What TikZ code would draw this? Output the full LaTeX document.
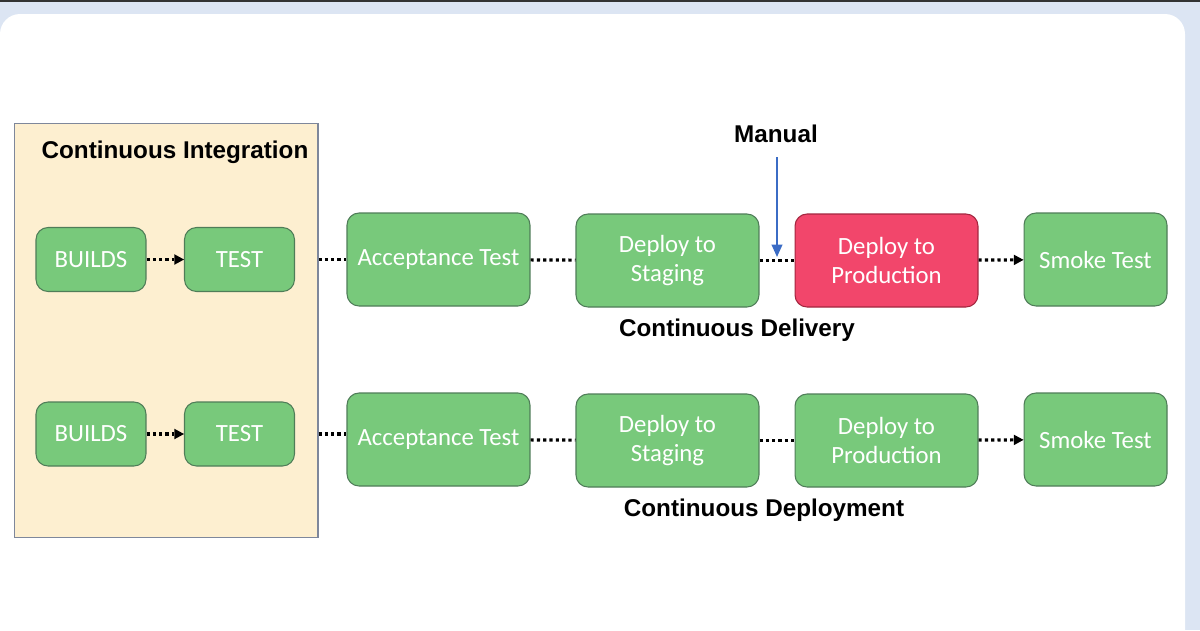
\documentclass[tikz,border=0pt]{standalone}
\usepackage{fontspec}
\setmainfont{Carlito}
\newfontfamily\headfont{Liberation Sans}
\usetikzlibrary{arrows.meta,calc}
\definecolor{stagegreen}{HTML}{78C97B}
\definecolor{stageedge}{HTML}{4F7D58}
\definecolor{prodred}{HTML}{F2466B}
\definecolor{prodedge}{HTML}{A3263F}
\definecolor{cifill}{HTML}{FDEFD0}
\definecolor{ciedge}{HTML}{7E879B}
\definecolor{pagebg}{HTML}{DCE5F3}
\definecolor{manualblue}{HTML}{3B6CC5}
\tikzset{
  stage/.style = {draw=stageedge, fill=stagegreen, rounded corners=0.24cm,
    text=white, font=\fontsize{14.1}{16.4}\selectfont, align=center,
    line width=0.6pt, inner sep=0pt},
  small stage/.style = {stage, minimum width=2.2cm, minimum height=1.28cm},
  big stage/.style = {stage, minimum width=3.66cm, minimum height=1.86cm},
  red stage/.style = {big stage, draw=prodedge, fill=prodred},
  heading/.style = {font=\headfont\bfseries\fontsize{13.8}{16}\selectfont},
  flow/.style = {line width=1.8pt, dash pattern=on 1.8pt off 1.8pt},
  flow arrow/.style = {flow, -{Triangle[length=5.5pt,width=6pt,line width=0pt]}}
}

\begin{document}
\begin{tikzpicture}[x=0.02cm,y=-0.02cm]

  % page background and panel
  \useasboundingbox (0,0) rectangle (1200,630);
  \clip (0,0) rectangle (1200,630);
  \fill[pagebg] (0,0) rectangle (1200,630);
  \fill[black!80] (0,0) rectangle (1200,1.5);
  \fill[white, rounded corners=0.4cm] (0,14) rectangle (1185,680);

  % CI box
  \node[draw=ciedge, fill=cifill, line width=0.6pt, minimum width=6.08cm,
    minimum height=8.3cm, inner sep=0pt] (ci) at (166,330.5) {};
  \node[heading] (cititle) at (175,152.5) {Continuous Integration};

  % continuous delivery row
  \node[small stage] (build1) at (91,259.5) {BUILDS};
  \node[small stage] (test1) at (239.5,259.5) {TEST};
  \node[big stage] (accept1) at (438.5,259.5) {Acceptance Test};
  \node[big stage] (stage1) at (667.5,260.5) {Deploy to\\Staging};
  \node[red stage] (prod1) at (886.5,260.5) {Deploy to\\Production};
  \node[big stage, minimum width=2.86cm] (smoke1) at (1095.5,259.5) {Smoke Test};
  \node[heading] (delivery) at (737,330.5) {Continuous Delivery};
  \node[heading] (manual) at (776,134) {Manual};
  \coordinate (manualtip) at (777,257);

  % continuous deployment row
  \node[small stage] (build2) at (91,434) {BUILDS};
  \node[small stage] (test2) at (239.5,434) {TEST};
  \node[big stage] (accept2) at (438.5,439.5) {Acceptance Test};
  \node[big stage] (stage2) at (667.5,440.5) {Deploy to\\Staging};
  \node[big stage] (prod2) at (886.5,440.5) {Deploy to\\Production};
  \node[big stage, minimum width=2.86cm] (smoke2) at (1095.5,439.5) {Smoke Test};
  \node[heading] (deployment) at (764,510.5) {Continuous Deployment};

  % connectors
  \foreach \r in {1,2}{
    \draw[flow arrow] (build\r) -- (test\r);
    \draw[flow] (ci.east |- test\r) -- (accept\r.west |- test\r);
    \draw[flow] (accept\r) -- (stage\r);
    \draw[flow] (stage\r) -- (prod\r);
    \draw[flow arrow] (prod\r) -- (smoke\r);
  }
  \draw[manualblue, line width=1.1pt, -{Triangle[length=7pt,width=6pt]}]
    (manual.south -| manualtip) ++(0,8) -- (manualtip);

\end{tikzpicture}
\end{document}
